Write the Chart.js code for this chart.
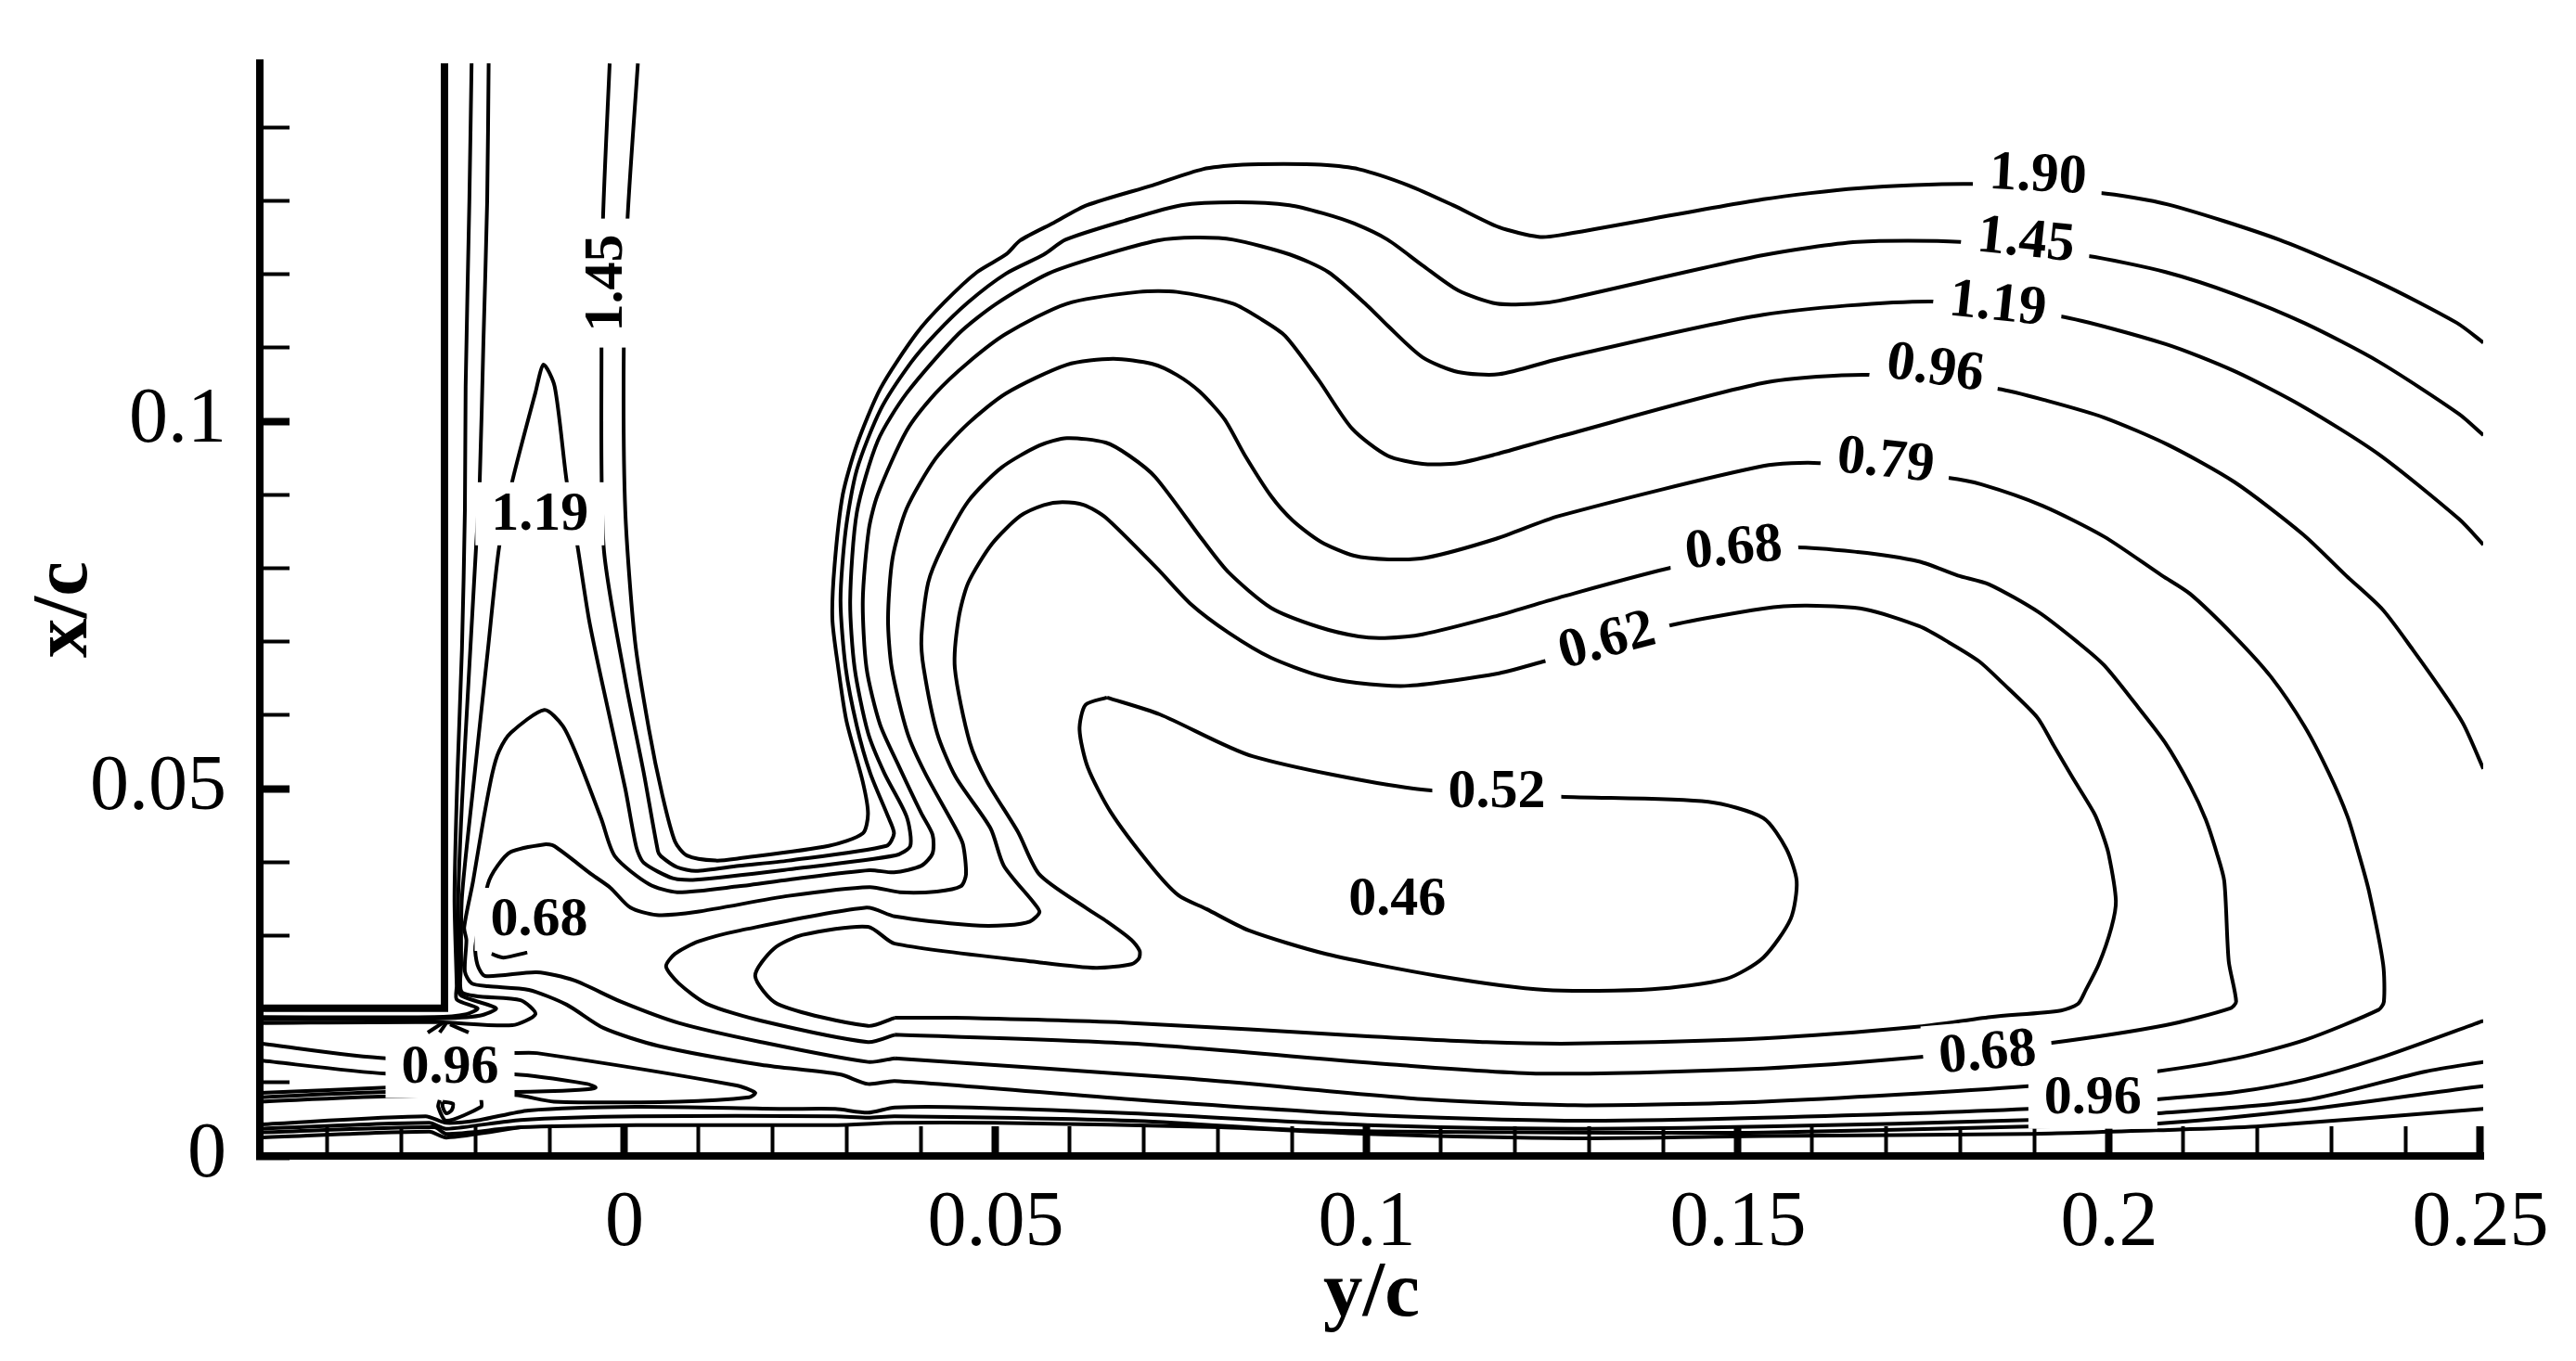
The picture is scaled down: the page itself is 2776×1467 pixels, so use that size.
<!DOCTYPE html>
<html>
<head>
<meta charset="utf-8">
<title>contours</title>
<script src="https://cdn.jsdelivr.net/npm/chart.js@4"></script>
<style>
  html, body { margin: 0; background: #fff; }
  canvas { display: block; }
</style>
</head>
<body>
<canvas id="chart" width="2776" height="1467"></canvas>
<script>
// axis ranges and ticks
const xMin = -.049125, xMax = .25038;
const yMin = 0, yMax = .14874;
const xTickValues = [-.04,-.03,-.02,-.01,0,.01,.02,.03,.04,.05,.06,.07,.08,.09,.1,.11,.12,.13,.14,.15,.16,.17,.18,.19,.2,.21,.22,.23,.24,.25];
const xMajorValues = [0,.05,.1,.15,.2,.25];
const xMajorLabels = ["0","0.05","0.1","0.15","0.2","0.25"];
const yTickValues = [0,.01,.02,.03,.04,.05,.06,.07,.08,.09,.1,.11,.12,.13,.14];
const yMajorValues = [0,.05,.1];
const yMajorLabels = ["0","0.05","0.1"];

// contour levels, [y/c, x/c] pairs
const level190upper = [[.2504,.1107],[.2468,.1134],[.2363,.1189],[.2229,.1247],[.2079,.1295],[.1986,.1311],[.1814,.1323],[.1661,.1317],[.1534,.1302],[.1259,.1253],[.1231,.1251],[.1178,.1264],[.1116,.1294],[.1056,.1321],[.0989,.1343],[.0938,.1349],[.0888,.135],[.0833,.1349],[.0779,.1343],[.0711,.1321],[.0623,.1294],[.0578,.127],[.0533,.1246],[.0514,.1227],[.0475,.1203],[.0431,.1162],[.0393,.1119],[.0345,.1045],[.0313,.0968],[.0294,.09],[.0283,.0804],[.028,.0731],[.0288,.0664],[.0299,.0592],[.0321,.0509],[.0328,.0466],[.0321,.0439],[.0275,.0422],[.0154,.0405],[.0123,.0402],[.0084,.0409],[.0068,.0428],[.0051,.0491],[.0033,.058],[.0014,.0702],[.0001,.0879],[-.0001,.1097],[.0004,.1274],[.0018,.1487]];
const level190wall = [[-.0206,.1487],[-.0209,.1299],[-.0214,.1047],[-.0215,.0879],[-.0219,.0689],[-.0225,.0521],[-.0229,.0352],[-.0226,.0231],[-.0226,.0213],[-.0198,.0201],[-.0213,.0193],[-.0256,.0189],[-.0491,.0189]];
const level190lower = [[.2504,.0064],[.2198,.004],[.2063,.0035],[.1891,.003],[.1534,.0027],[.128,.0024],[.1001,.003],[.0803,.0039],[.0499,.0045],[.0364,.0045],[.0284,.0042],[.0016,.0042],[-.014,.0039],[-.024,.003],[-.0256,.0039],[-.0491,.0032]];

const level145upper = [[.2504,.0981],[.2471,.101],[.2363,.1081],[.2264,.1133],[.2171,.1172],[.2076,.1203],[.197,.1225],[.1799,.1244],[.1661,.1244],[.1534,.1226],[.1259,.1164],[.1228,.116],[.1175,.116],[.1123,.1178],[.1075,.1212],[.1028,.1247],[.0983,.1269],[.0941,.1283],[.0896,.1294],[.0826,.1298],[.075,.1294],[.0674,.1273],[.0594,.1247],[.0565,.1227],[.0514,.1201],[.0463,.1162],[.0419,.1119],[.0386,.108],[.0345,.1016],[.0313,.0934],[.0298,.0852],[.0291,.0756],[.0298,.0664],[.0313,.0585],[.0331,.0521],[.0355,.0462],[.0363,.0439],[.0353,.0422],[.0221,.0402],[.0154,.0395],[.0096,.0388],[.0071,.0393],[.0049,.0408],[.0045,.0415],[.0026,.0521],[.0001,.0648],[-.0028,.0828],[-.0031,.1097],[-.0029,.1274],[-.002,.1487]];
const level145wall = [[-.0183,.1487],[-.0185,.1299],[-.019,.111],[-.0195,.0919],[-.02,.0828],[-.021,.0648],[-.0219,.0479],[-.0224,.0352],[-.0224,.0231],[-.022,.0218],[-.0173,.0201],[-.0195,.0191],[-.0256,.0187],[-.0491,.0186]];
const level145lower = [[.2504,.0095],[.2471,.0091],[.2264,.0063],[.2063,.0044],[.1891,.004],[.1534,.0032],[.128,.0032],[.0921,.0035],[.0683,.0048],[.0364,.0054],[.0328,.0052],[.0284,.0054],[.0016,.0054],[-.014,.0049],[-.024,.0037],[-.0263,.0045],[-.0491,.0037]];

const level119upper = [[.2504,.0832],[.2471,.0867],[.2363,.0955],[.2261,.102],[.2169,.1068],[.2076,.1105],[.1933,.1143],[.176,.1163],[.1534,.1145],[.1259,.1085],[.1178,.1064],[.1123,.1067],[.1075,.1087],[.1028,.113],[.1001,.1157],[.0948,.1203],[.0896,.1227],[.082,.1247],[.0769,.125],[.0718,.1246],[.0641,.1225],[.0571,.1201],[.0501,.116],[.045,.1119],[.038,.1038],[.0341,.0973],[.0313,.0876],[.0304,.0756],[.031,.0664],[.0328,.0576],[.035,.0521],[.038,.0462],[.0385,.0422],[.0365,.0409],[.0221,.039],[.0096,.0376],[.0065,.0378],[.0026,.0399],[.0016,.042],[.0001,.05],[-.0031,.0648],[-.0048,.0731],[-.0063,.0828],[-.0078,.0919],[-.0094,.1047],[-.0109,.1077],[-.012,.1039],[-.0151,.0919],[-.0169,.0828],[-.0184,.0689],[-.0204,.05],[-.0219,.0352],[-.022,.026],[-.0218,.0222],[-.014,.0212],[-.012,.0193],[-.0151,.0178],[-.0251,.0182],[-.0491,.0181]];
const level119lower = [[.2504,.0128],[.2426,.0115],[.2264,.0076],[.2063,.0058],[.1891,.0049],[.1534,.004],[.128,.0037],[.1001,.0042],[.0683,.0058],[.0468,.0066],[.0364,.0066],[.0328,.0059],[.0284,.0064],[.0213,.0064],[.0016,.0067],[-.0129,.0062],[-.0195,.0049],[-.024,.0045],[-.0268,.0054],[-.0491,.0043]];

const level096 = [[.2504,.0527],[.2478,.0586],[.2453,.0626],[.2409,.0689],[.2368,.0744],[.2319,.079],[.2261,.0846],[.2169,.0917],[.2079,.0968],[.1993,.1005],[.1916,.1028],[.1851,.1044],[.1679,.1063],[.1534,.1052],[.1259,.0979],[.1174,.0955],[.1123,.0943],[.1075,.0942],[.1028,.0953],[.098,.099],[.0935,.1056],[.089,.1116],[.0859,.1138],[.082,.116],[.0744,.1176],[.0693,.1176],[.0596,.116],[.0514,.1119],[.0463,.108],[.0419,.1038],[.038,.0987],[.0341,.09],[.0329,.0852],[.0321,.0756],[.0326,.0664],[.0344,.0588],[.0368,.0534],[.04,.0466],[.0415,.0437],[.0415,.0412],[.04,.0395],[.0363,.0386],[.033,.0389],[.0221,.0376],[.0154,.0367],[.0071,.0359],[.0033,.037],[-.0013,.0408],[-.0031,.0458],[-.0063,.0542],[-.0083,.0585],[-.0108,.0607],[-.0153,.0576],[-.0169,.0551],[-.0178,.0521],[-.019,.0458],[-.0204,.0374],[-.0216,.0311],[-.0213,.0294],[-.0215,.0251],[-.0206,.0235],[-.0184,.0231],[-.0129,.0226],[-.0078,.0206],[-.0028,.0174],[.0045,.015],[.0184,.0124],[.029,.0111],[.0328,.0098],[.0364,.0102],[.0683,.0077],[.1001,.0056],[.128,.0048],[.1534,.0052],[.1891,.0064],[.2063,.0077],[.2171,.0087],[.2264,.0104],[.2363,.0133],[.2504,.0184]];

const level079 = [[.0364,.0133],[.0328,.0128],[.0184,.0155],[.0073,.0181],[-.0005,.021],[-.0068,.0239],[-.0118,.025],[-.0188,.0245],[-.0198,.026],[-.0201,.0285],[-.0184,.037],[-.0171,.0395],[-.0153,.0414],[-.0108,.0424],[-.0095,.0422],[-.0044,.0383],[-.0019,.0365],[.0008,.0338],[.0043,.0328],[.0096,.0332],[.0221,.0354],[.033,.0366],[.0371,.0359],[.0421,.036],[.0453,.0367],[.046,.0383],[.0456,.0424],[.0446,.0446],[.0405,.0521],[.0381,.0576],[.036,.0664],[.0355,.0731],[.0361,.0813],[.038,.0881],[.0419,.0949],[.0463,.0997],[.0514,.1038],[.0596,.1077],[.0658,.1085],[.0711,.1078],[.0744,.1063],[.0775,.104],[.0808,.1003],[.0836,.0953],[.0871,.0898],[.09,.0865],[.0938,.0836],[.0983,.0817],[.103,.0812],[.1079,.0814],[.1174,.084],[.1259,.0871],[.1534,.0939],[.161,.0943],[.1783,.0923],[.1828,.0914],[.191,.0885],[.1993,.0843],[.2071,.079],[.2109,.0765],[.2168,.0708],[.2218,.0652],[.2263,.0585],[.2296,.0521],[.2321,.0462],[.2336,.0412],[.235,.036],[.2369,.0261],[.237,.021],[.2363,.0199],[.2264,.0158],[.2171,.0133],[.2063,.0115],[.1891,.0095],[.1534,.0074],[.128,.0069],[.1081,.0077],[.0763,.0105],[.0364,.0133]];

const level068 = [[.0364,.0165],[.0328,.0155],[.0184,.0184],[.0111,.0207],[.0073,.0235],[.0056,.0258],[.0068,.0275],[.01,.0292],[.0156,.0307],[.0326,.0338],[.0364,.0326],[.0468,.0314],[.0515,.0314],[.0546,.0319],[.0559,.0332],[.0551,.0345],[.0511,.0395],[.0493,.0446],[.0446,.0516],[.0421,.0576],[.0403,.0664],[.04,.0707],[.0409,.078],[.0428,.0828],[.0463,.0891],[.0508,.0937],[.0559,.0967],[.0596,.0977],[.0648,.0971],[.068,.0953],[.0715,.0924],[.0779,.0838],[.0814,.0794],[.0871,.0746],[.0935,.072],[.0989,.0707],[.1024,.0705],[.1075,.071],[.1171,.0734],[.1259,.076],[.1416,.0802],[.1566,.0828],[.1661,.0822],[.1744,.0809],[.1796,.079],[.1838,.0778],[.1905,.074],[.1959,.0698],[.1993,.0668],[.2034,.0617],[.2075,.0563],[.2109,.0504],[.213,.0458],[.2145,.0412],[.2155,.0374],[.2161,.0265],[.2171,.021],[.2163,.0201],[.2076,.0178],[.1923,.0154],[.175,.0135],[.1534,.0119],[.124,.0112],[.1041,.0124],[.0683,.0153],[.0364,.0165]];
const level068small = [[-.0179,.0275],[-.0163,.027],[-.0131,.0277]];

const level062 = [[.0364,.0188],[.0328,.0177],[.0206,.0207],[.0176,.0245],[.0201,.0282],[.024,.0301],[.0328,.0312],[.0364,.0289],[.0563,.0263],[.0635,.0256],[.0683,.0261],[.0693,.0269],[.0694,.0279],[.0683,.0294],[.065,.0319],[.0624,.0336],[.0559,.0383],[.053,.0441],[.0488,.051],[.0465,.0563],[.0445,.0664],[.045,.0731],[.0463,.078],[.0495,.0833],[.0533,.0871],[.0565,.0886],[.059,.089],[.0619,.0886],[.0648,.0869],[.0718,.0799],[.0763,.0751],[.0814,.0712],[.0871,.0678],[.0935,.0654],[.0986,.0644],[.1056,.064],[.1178,.0657],[.1241,.0674],[.1399,.072],[.1534,.0745],[.1593,.0749],[.1671,.0744],[.1744,.0721],[.1784,.0699],[.1825,.0673],[.1855,.0645],[.1903,.0597],[.1925,.0559],[.195,.0516],[.198,.0466],[.199,.0441],[.1999,.0412],[.2009,.0347],[.2003,.0311],[.1986,.0261],[.1968,.0225],[.1958,.0207],[.1935,.0198],[.184,.0189],[.1744,.0176],[.1534,.016],[.128,.0153],[.1161,.0155],[.1001,.0163],[.0683,.0181],[.0444,.0188],[.0364,.0188]];

const level052 = [[.065,.0624],[.0721,.0601],[.0846,.0544],[.1063,.05],[.1261,.0489],[.146,.0482],[.1534,.046],[.1565,.0418],[.1579,.0374],[.1571,.0323],[.1534,.027],[.1484,.0241],[.1384,.0227],[.124,.0226],[.1096,.0245],[.0945,.0275],[.0841,.0307],[.0784,.0336],[.0746,.0355],[.0709,.0395],[.0655,.0468],[.0624,.0529],[.0613,.058],[.0621,.0614],[.065,.0624]];

// thin closed tongues and small pieces near the plate corner
const tongueOuter = [[-.0491,.0153],[-.0321,.0133],[-.0148,.014],[-.0118,.014],[.0151,.0096],[.0176,.0086],[.0168,.008],[.0073,.0074],[-.0095,.0074],[-.0148,.0083],[-.0321,.0081],[-.0491,.0074]];
const tongueInner = [[-.0491,.013],[-.0321,.0112],[-.0148,.0111],[-.005,.0098],[-.0039,.0093],[-.0061,.009],[-.0148,.0087],[-.0321,.0087],[-.0491,.008]];
const tongueShort = [[-.0491,.0086],[-.0321,.0093],[-.0254,.0096]];
const loopOuter = [[-.0193,.0076],[-.0193,.0067],[-.024,.0048],[-.0251,.0067],[-.0249,.0076]];
const loopInner = [[-.0245,.0074],[-.0231,.0071],[-.0233,.0062],[-.024,.0058],[-.0245,.0067],[-.0245,.0074]];
const fanLeft = [[-.0265,.0168],[-.0245,.0181]];
const fanMiddle = [[-.0249,.0168],[-.024,.0181]];
const fanRight = [[-.021,.0168],[-.0235,.0179]];
const wallNearLine = [[-.0491,.0025],[-.0263,.0033],[-.024,.0025],[-.014,.0039]];

const plateEdge = [[-.02425,.1487],[-.02425,.0201],[-.0491,.0201]];

// contour labels: text, y/c, x/c, rotation in degrees
const labelTexts = ["1.90","1.45","1.19","0.96","0.79","0.68","0.62","0.52","0.46","0.68","0.96","0.96","0.68","1.19","1.45"];
const labelXs = [.1904,.1888,.185,.1766,.1699,.1494,.1323,.1175,.1041,.1836,.1978,-.0235,-.0115,-.0114,-.0025];
const labelYs = [.1336,.1247,.116,.1073,.0947,.0828,.0702,.0497,.035,.0141,.008,.0122,.0322,.0874,.1188];
const labelAngles = [3,6,6,8,6,-5,-15,0,0,-5,0,0,0,0,-90];

const contours = [level190upper, level190wall, level190lower, level145upper, level145wall, level145lower,
  level119upper, level119lower, level096, level079, level068, level068small, level062, level052,
  tongueOuter, tongueInner, tongueShort, loopOuter, loopInner, fanLeft, fanMiddle, fanRight, wallNearLine];

const toPoints = (pairs) => pairs.map((p) => ({ x: p[0], y: p[1] }));

const contourLabels = {
  id: "contourLabels",
  afterDatasetsDraw(chart) {
    const { ctx, scales } = chart;
    ctx.save();
    ctx.font = "bold 60px 'Liberation Serif'";
    ctx.textAlign = "center";
    ctx.textBaseline = "middle";
    labelTexts.forEach((text, i) => {
      const w = ctx.measureText(text).width + 34;
      ctx.save();
      ctx.translate(scales.x.getPixelForValue(labelXs[i]), scales.y.getPixelForValue(labelYs[i]));
      ctx.rotate(labelAngles[i] * Math.PI / 180);
      ctx.fillStyle = "#fff";
      ctx.fillRect(-w / 2, -34, w, 68);
      ctx.fillStyle = "#000";
      ctx.fillText(text, 0, 2);
      ctx.restore();
    });
    ctx.restore();
  },
};

const datasets = contours.map((pairs) => ({
  data: toPoints(pairs),
  showLine: true,
  borderColor: "#000",
  borderWidth: 4,
  pointRadius: 0,
  tension: 0.25,
  fill: false,
}));
datasets.push({
  data: toPoints(plateEdge),
  showLine: true,
  borderColor: "#000",
  borderWidth: 8,
  pointRadius: 0,
  tension: 0,
  borderJoinStyle: "miter",
  fill: false,
});

new Chart(document.getElementById("chart"), {
  type: "scatter",
  data: { datasets },
  plugins: [contourLabels],
  options: {
    responsive: false,
    animation: false,
    layout: { padding: { top: 68, right: 100, left: 0, bottom: 0 } },
    plugins: { legend: { display: false }, tooltip: { enabled: false } },
    scales: {
      x: {
        type: "linear",
        min: xMin,
        max: xMax,
        afterBuildTicks: (axis) => { axis.ticks = xTickValues.map((v) => ({ value: v })); },
        afterFit: (axis) => { axis.height = 221; axis.paddingLeft = 0; axis.paddingRight = 0; },
        border: { display: true, color: "#000", width: 8 },
        grid: {
          drawOnChartArea: false,
          tickLength: -32,
          tickColor: "#000",
          tickWidth: (c) => (xMajorValues.includes(c.tick && c.tick.value) ? 8 : 4),
        },
        ticks: {
          autoSkip: false,
          maxRotation: 0,
          padding: 56,
          color: "#000",
          font: { family: "'Liberation Serif'", size: 84 },
          callback: (v) => { const i = xMajorValues.indexOf(v); return i < 0 ? "" : xMajorLabels[i]; },
        },
        title: {
          display: true,
          text: "y/c",
          color: "#000",
          font: { family: "'Liberation Serif'", size: 85, weight: "bold" },
          padding: { top: 0, bottom: 20 },
        },
      },
      y: {
        type: "linear",
        min: yMin,
        max: yMax,
        afterBuildTicks: (axis) => { axis.ticks = yTickValues.map((v) => ({ value: v })); },
        afterFit: (axis) => { axis.width = 280; axis.paddingTop = 0; axis.paddingBottom = 0; },
        border: { display: true, color: "#000", width: 8 },
        grid: {
          drawOnChartArea: false,
          tickLength: -32,
          tickColor: "#000",
          tickWidth: (c) => (yMajorValues.includes(c.tick && c.tick.value) ? 8 : 4),
        },
        ticks: {
          autoSkip: false,
          padding: 68,
          color: "#000",
          font: { family: "'Liberation Serif'", size: 84 },
          callback: (v) => { const i = yMajorValues.indexOf(v); return i < 0 ? "" : yMajorLabels[i]; },
        },
        title: {
          display: true,
          text: "x/c",
          color: "#000",
          font: { family: "'Liberation Serif'", size: 85, weight: "bold" },
          padding: { top: 20, bottom: 0 },
        },
      },
    },
  },
});
</script>
</body>
</html>
